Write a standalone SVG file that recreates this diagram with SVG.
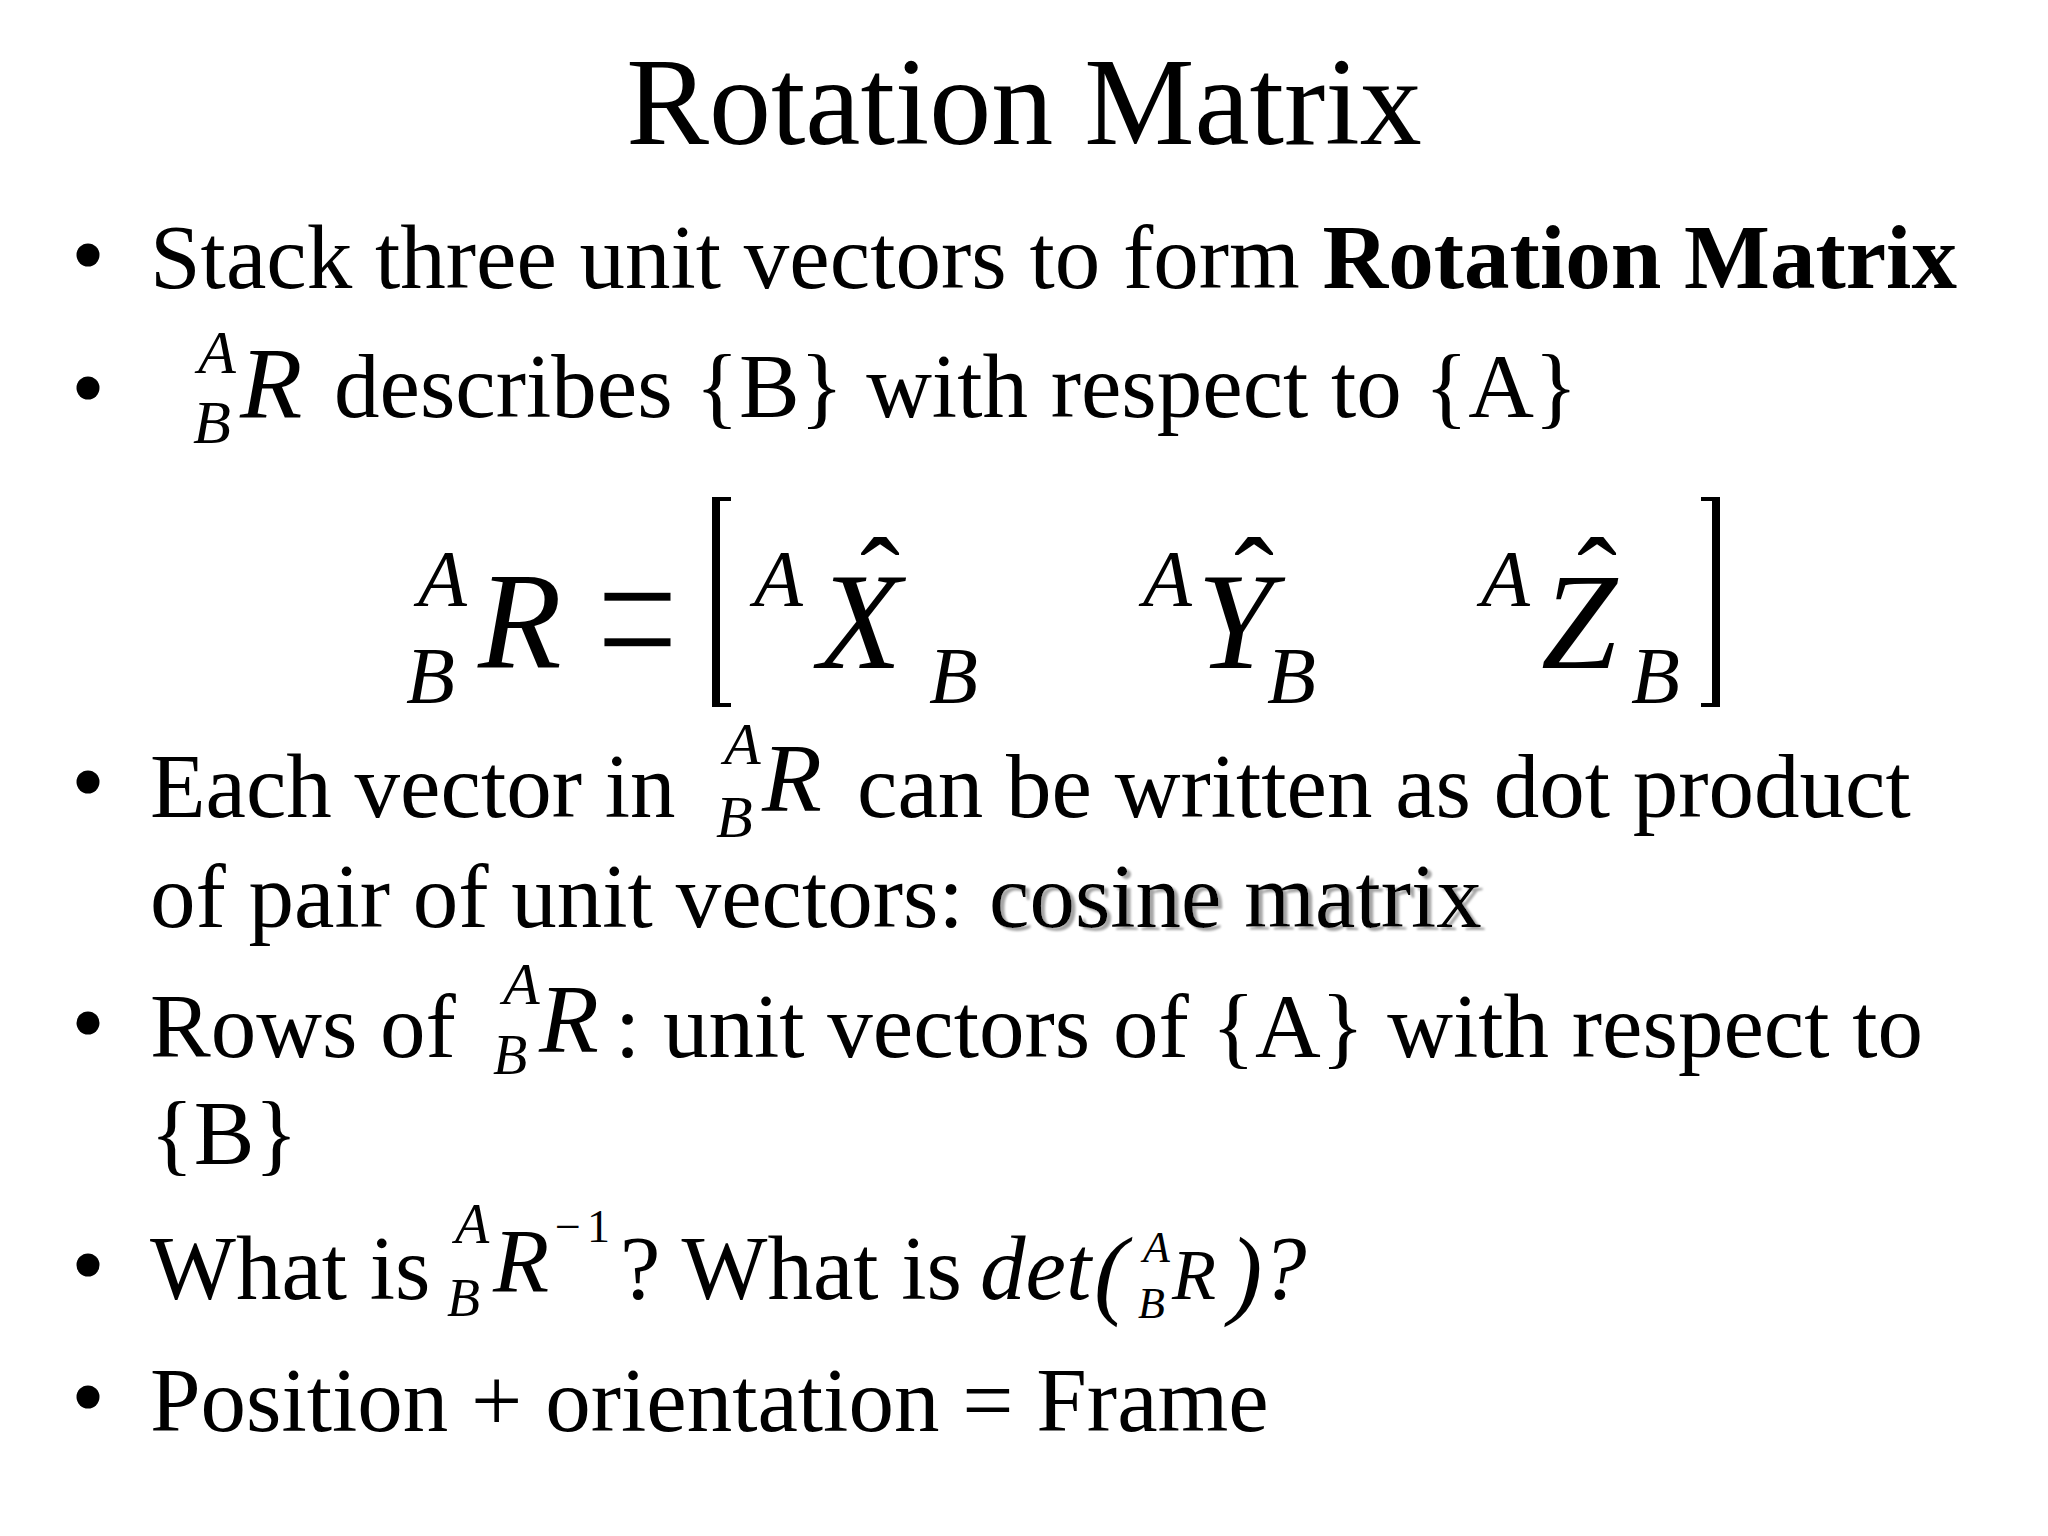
<svg xmlns="http://www.w3.org/2000/svg" width="2048" height="1536" viewBox="0 0 2048 1536">
<defs>
<style>
text{font-family:"Liberation Serif","Times New Roman",serif;fill:#000}
.title{font-size:124px}
.body{font-size:91px}
.i{font-style:italic}
.b{font-weight:bold}
.big{font-size:137px;font-style:italic}
.sm{font-size:80px;font-style:italic}
.hat{font-size:120px;font-style:normal}
.dot{fill:#000}
.br{fill:#000}
</style>
<filter id="shadow" x="-5%" y="-20%" width="115%" height="150%">
<feDropShadow dx="4" dy="3" stdDeviation="0.8" flood-color="#a6a6a6" flood-opacity="1"/>
</filter>
</defs>
<rect width="2048" height="1536" fill="#fff"/>

<g id="title">
<text class="title" x="1024" y="144" text-anchor="middle">Rotation Matrix</text>
</g>

<g id="bullet-1">
<circle class="dot" cx="88" cy="255" r="11.5"/>
<text class="body" x="150" y="288">Stack three unit vectors to form <tspan class="b">Rotation Matrix</tspan></text>
</g>

<g id="bullet-2">
<circle class="dot" cx="88" cy="388" r="11.5"/>
<text class="i" x="198" y="373" font-size="62">A</text>
<text class="i" x="193" y="443" font-size="62">B</text>
<text class="i" x="240" y="418" font-size="102">R</text>
<text class="body" x="334" y="417">describes {B} with respect to {A}</text>
</g>

<g id="equation">
<text class="sm" x="418" y="606">A</text>
<text class="sm" x="406" y="703">B</text>
<text class="big" x="478" y="668">R</text>
<text x="0" y="0" font-size="136" transform="translate(596,695) scale(1.08,1.67)" style="stroke:#fff;stroke-width:2px">=</text>
<path class="br" d="M712,497 H731 V501 H720 V703 H731 V707 H712 Z"/>
<text class="sm" x="754" y="606">A</text>
<text class="big" x="818" y="668">X<tspan class="hat" x="880" y="621" text-anchor="middle">ˆ</tspan></text>
<text class="sm" x="929" y="703">B</text>
<text class="sm" x="1143" y="606">A</text>
<text class="big" x="1197" y="668">Y<tspan class="hat" x="1254" y="621" text-anchor="middle">ˆ</tspan></text>
<text class="sm" x="1267" y="703">B</text>
<text class="sm" x="1481" y="606">A</text>
<text class="big" x="1541" y="668">Z<tspan class="hat" x="1597" y="621" text-anchor="middle">ˆ</tspan></text>
<text class="sm" x="1631" y="703">B</text>
<path class="br" d="M1720,497 H1701 V501 H1712 V703 H1701 V707 H1720 Z"/>
</g>

<g id="bullet-3">
<circle class="dot" cx="88" cy="782" r="11.5"/>
<text class="body" x="150" y="817">Each vector in</text>
<text class="i" x="724" y="764" font-size="60">A</text>
<text class="i" x="716" y="837" font-size="60">B</text>
<text class="i" x="762" y="811" font-size="98">R</text>
<text class="body" x="857" y="817">can be written as dot product</text>
<text class="body" x="150" y="927">of pair of unit vectors: </text>
<text class="body" x="989" y="927" filter="url(#shadow)">cosine matrix</text>
</g>

<g id="bullet-4">
<circle class="dot" cx="88" cy="1023" r="11.5"/>
<text class="body" x="150" y="1057">Rows of</text>
<text class="i" x="503" y="1004" font-size="60">A</text>
<text class="i" x="493" y="1074" font-size="56">B</text>
<text class="i" x="539" y="1052" font-size="98">R</text>
<text class="body" x="615" y="1057">: unit vectors of {A} with respect to</text>
<text class="body" x="150" y="1164">{B}</text>
</g>

<g id="bullet-5">
<circle class="dot" cx="88" cy="1265" r="11.5"/>
<text class="body" x="150" y="1299">What is</text>
<text class="i" x="455" y="1243" font-size="56">A</text>
<text class="i" x="447" y="1316" font-size="54">B</text>
<text class="i" x="493" y="1292" font-size="92">R</text>
<text x="555" y="1242" font-size="46">−</text>
<text x="587" y="1242" font-size="46">1</text>
<text class="body" x="620" y="1299">? What is </text>
<text class="body i" x="980" y="1299">det</text>
<text class="i" x="1094" y="1306" font-size="100">(</text>
<text class="i" x="1143" y="1262" font-size="44">A</text>
<text class="i" x="1138" y="1318" font-size="44">B</text>
<text class="i" x="1172" y="1299" font-size="72">R</text>
<text class="i" x="1229" y="1306" font-size="100">)</text>
<text class="body i" x="1261" y="1299">?</text>
</g>

<g id="bullet-6">
<circle class="dot" cx="88" cy="1397" r="11.5"/>
<text class="body" x="150" y="1431">Position + orientation = Frame</text>
</g>
</svg>
